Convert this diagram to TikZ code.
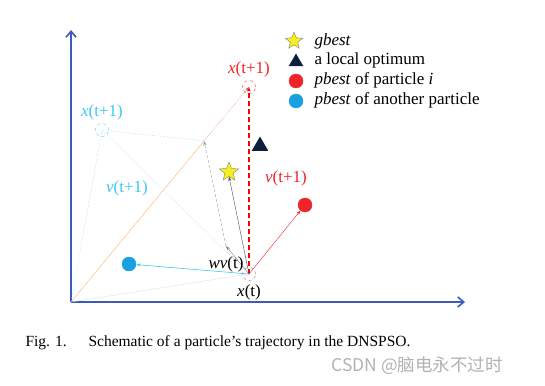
\documentclass[tikz,border=0pt]{standalone}
\usepackage{fontspec}
\setmainfont{Liberation Serif}
\newfontfamily\cjkfont{Noto Sans CJK SC}
\usetikzlibrary{shapes.geometric,arrows.meta,positioning}

\definecolor{axisblue}{RGB}{59,92,184}
\definecolor{ptred}{RGB}{238,36,40}
\definecolor{ptcyan}{RGB}{60,200,240}
\definecolor{ptblue}{RGB}{26,160,224}
\definecolor{navy}{RGB}{16,30,62}
\definecolor{staryellow}{RGB}{245,240,30}

\begin{document}
\begin{tikzpicture}[x=1pt,y=-1pt,
  lbl/.style={font=\fontsize{17}{20}\selectfont},
  posmark/.style={circle,draw,dashed,thin,minimum size=13pt,inner sep=0pt},
  pdot/.style={circle,draw=gray!70,fill,minimum size=14pt,inner sep=0pt},
  gstar/.style={star,star points=5,star point ratio=2.3,draw=gray,fill=staryellow,minimum size=20pt,inner sep=0pt},
  lopt/.style={regular polygon,regular polygon sides=3,fill=navy,minimum size=19pt,inner sep=0pt},
  vel/.style={-{Stealth[length=4.5pt,width=3pt]}},
  axis/.style={axisblue,line width=1.6pt,-{Straight Barb[length=6pt,width=10pt]}}]
\useasboundingbox (0,0) rectangle (545,385);

% axes
\coordinate (o) at (71,302);
\coordinate (ytop) at (71,30);
\coordinate (xend) at (465,302);
\draw[axis] (o) -- (ytop);
\draw[axis] (o) -- (xend);

% positions and best points
\node[posmark,gray,label={[lbl,black]below:\textit{x}(t)}] (xt) at (249,274) {};
\node[posmark,ptred,label={[lbl,ptred]above:\textit{x}(t+1)}] (xr) at (249,87) {};
\node[posmark,ptcyan,label={[lbl,ptcyan]above:\textit{x}(t+1)}] (xc) at (102,130) {};
\coordinate (mid) at (204,141);
\coordinate (wv) at (226,246);
\node[gstar] (gb) at (229,172) {};
\node[lopt] (lo) at (260,146) {};
\node[pdot,ptred] (pi) at (305,205) {};
\node[pdot,ptblue] (pa) at (129,264) {};

% velocities
\draw[red,dash pattern=on 5pt off 3pt,line width=1.2pt,vel] (xt.center) -- (xr.center);
\draw[gray!25,thin] (o) -- (xt.center);
\draw[orange!60,thin] (o) -- (mid);
\draw[ptred!80,densely dotted,thin,vel] (mid) -- (xr.center);
\draw[ptcyan!70,densely dotted] (o) -- (xc.center);
\draw[ptcyan!70,densely dotted] (xc.center) -- (mid);
\draw[ptcyan!70,densely dotted] (xc.center) -- (xt.center);
\draw[gray,thin,vel] (xt.center) -- (wv);
\draw[gray!80,densely dashed,thin,vel] (wv) -- (mid);
\draw[black!70,thin,vel] (xt.center) -- (gb.south);
\draw[ptred,thin,vel] (xt.center) -- (pi);
\draw[ptcyan,semithick,vel] (xt.center) -- (pa);

\node[lbl] (wvl) at (226,264) {\textit{wv}(t)};
\node[lbl,ptred] (vr) at (286,178) {\textit{v}(t+1)};
\node[lbl,ptcyan] (vc) at (127,188) {\textit{v}(t+1)};

% legend
\node[gstar,minimum size=18pt] (s1) at (294,41) {};
\node[lopt,minimum size=17pt] (s2) at (296,62) {};
\node[pdot,ptred,minimum size=14pt] (s3) at (296,81) {};
\node[pdot,ptblue,minimum size=14pt] (s4) at (296,101) {};
\node[lbl,anchor=west] (t1) at (311,41) {\textit{gbest}};
\node[lbl,anchor=west] (t2) at (311,60) {a local optimum};
\node[lbl,anchor=west] (t3) at (311,80) {\textit{pbest} of particle \textit{i}};
\node[lbl,anchor=west] (t4) at (311,100) {\textit{pbest} of another particle};

% caption
\node[anchor=west,font=\fontsize{15.5}{18}\selectfont] (fig) at (22,343) {Fig. 1.};
\node[anchor=west,font=\fontsize{15.5}{18}\selectfont] (cap) at (85,343) {Schematic of a particle’s trajectory in the DNSPSO.};
\node[gray!60,font=\cjkfont\fontsize{17.5}{20}\selectfont] (wm) at (417,366) {CSDN @脑电永不过时};
\end{tikzpicture}
\end{document}
